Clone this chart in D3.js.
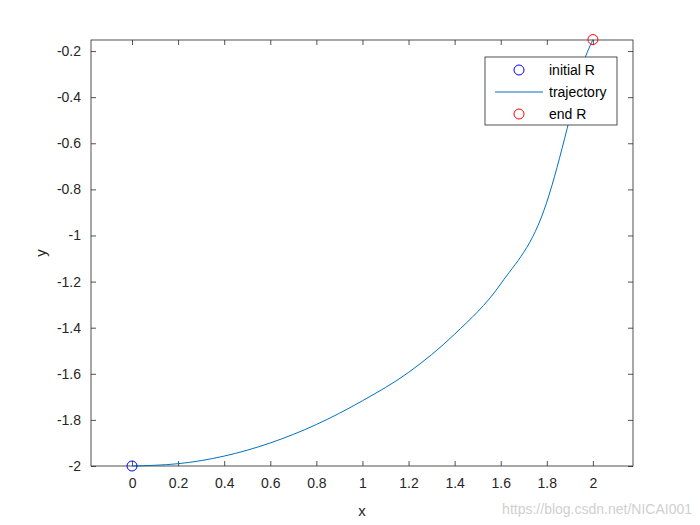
<!DOCTYPE html>
<html>
<head>
<meta charset="utf-8">
<script src="https://cdn.jsdelivr.net/npm/d3@7"></script>
<style>
  body { margin: 0; background: #fff; }
  text { font-family: "Liberation Sans", Arial, sans-serif; }
</style>
</head>
<body>
<div id="chart"></div>
<script>
// trajectory
const trajX = [0, 0.2, 0.4, 0.6, 0.8, 1.0, 1.2, 1.4, 1.6, 1.8, 1.888, 1.95, 2.0];
const trajY = [-2, -1.99, -1.957, -1.90, -1.82, -1.717, -1.594, -1.428, -1.21, -0.855, -0.537, -0.277, -0.15];
const startPt = [0, -2];
const endPt = [2, -0.15];
const xTicks = [0, 0.2, 0.4, 0.6, 0.8, 1, 1.2, 1.4, 1.6, 1.8, 2];
const yTicks = [-2, -1.8, -1.6, -1.4, -1.2, -1, -0.8, -0.6, -0.4, -0.2];
const legendLabels = ["initial R", "trajectory", "end R"];

const width = 700, height = 525;
const padL = 91, padR = 633, padT = 40, padB = 466;
const axisColor = "#262626";

const x = d3.scaleLinear().domain([-0.178, 2.174]).range([padL, padR]);
const y = d3.scaleLinear().domain([-2, -0.152]).range([padB, padT]);

const svg = d3.select("#chart").append("svg")
    .attr("width", width).attr("height", height);

// box
svg.append("rect")
    .attr("x", padL).attr("y", padT)
    .attr("width", padR - padL).attr("height", padB - padT)
    .attr("fill", "none").attr("stroke", axisColor).attr("stroke-width", 0.8);

// axes with inward ticks
const fmt = d => String(d);
svg.append("g").attr("transform", `translate(0,${padB})`)
    .call(d3.axisBottom(x).tickValues(xTicks).tickFormat(fmt).tickSizeInner(-5).tickSizeOuter(0).tickPadding(12));
svg.append("g").attr("transform", `translate(0,${padT})`)
    .call(d3.axisTop(x).tickValues(xTicks).tickFormat("").tickSizeInner(-5).tickSizeOuter(0));
svg.append("g").attr("transform", `translate(${padL},0)`)
    .call(d3.axisLeft(y).tickValues(yTicks).tickFormat(fmt).tickSizeInner(-5).tickSizeOuter(0).tickPadding(10));
svg.append("g").attr("transform", `translate(${padR},0)`)
    .call(d3.axisRight(y).tickValues(yTicks).tickFormat("").tickSizeInner(-5).tickSizeOuter(0));

svg.selectAll(".domain").remove();
svg.selectAll(".tick line").attr("stroke", axisColor).attr("stroke-width", 0.8);
svg.selectAll(".tick text").attr("fill", axisColor).style("font-size", "14px");

// axis labels
svg.append("text").attr("x", (padL + padR) / 2).attr("y", 516)
    .attr("text-anchor", "middle").attr("fill", axisColor).style("font-size", "15px").text("x");
svg.append("text").attr("transform", `translate(46,${(padT + padB) / 2}) rotate(-90)`)
    .attr("text-anchor", "middle").attr("fill", axisColor).style("font-size", "15px").text("y");

// trajectory
const line = d3.line().x((d, i) => x(trajX[i])).y((d, i) => y(trajY[i])).curve(d3.curveMonotoneX);
svg.append("path").datum(trajX).attr("d", line)
    .attr("fill", "none").attr("stroke", "#0072BD").attr("stroke-width", 1);

svg.append("circle").attr("cx", x(startPt[0])).attr("cy", y(startPt[1])).attr("r", 5)
    .attr("fill", "none").attr("stroke", "#0000FF");
svg.append("circle").attr("cx", x(endPt[0])).attr("cy", y(endPt[1])).attr("r", 5)
    .attr("fill", "none").attr("stroke", "#FF0000");

// legend
const lg = svg.append("g").attr("transform", "translate(485,57)");
lg.append("rect").attr("width", 132).attr("height", 68)
    .attr("fill", "#fff").attr("stroke", axisColor).attr("stroke-width", 0.8);
legendLabels.forEach((lab, i) => {
  const cy = 13 + i * 22;
  if (i === 1) {
    lg.append("line").attr("x1", 10).attr("x2", 58).attr("y1", cy).attr("y2", cy)
      .attr("stroke", "#0072BD").attr("stroke-width", 1);
  } else {
    lg.append("circle").attr("cx", 34).attr("cy", cy).attr("r", 5)
      .attr("fill", "none").attr("stroke", i === 0 ? "#0000FF" : "#FF0000");
  }
  lg.append("text").attr("x", 64).attr("y", cy + 5).attr("fill", "#000")
    .style("font-size", "14px").text(lab);
});

// watermark
svg.append("text").attr("x", 692).attr("y", 514).attr("text-anchor", "end")
    .attr("fill", "#d0d0d0").style("font-size", "14px").text("https://blog.csdn.net/NICAI001");
</script>
</body>
</html>
